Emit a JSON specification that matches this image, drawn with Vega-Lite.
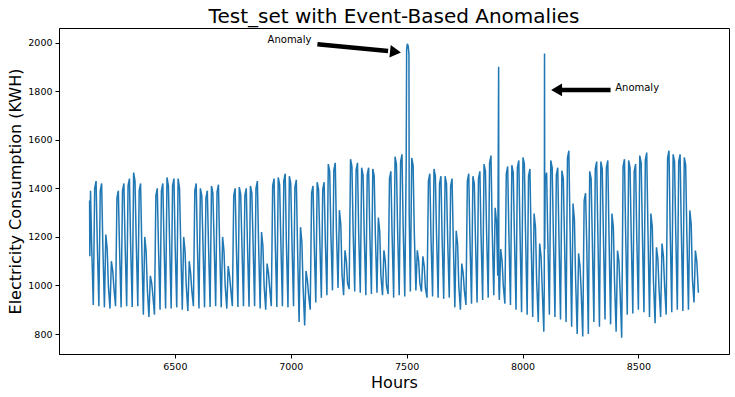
{
"$schema":"https://vega.github.io/schema/vega-lite/v6.json",
"width":670,"height":326,
"autosize":{"type":"none"},
"padding":{"left":59,"top":28,"right":6,"bottom":43},
"background":"white",
"config":{"font":"DejaVu Sans","view":{"stroke":"black","strokeWidth":1},
"axis":{"domainColor":"black","tickColor":"black","labelColor":"black","titleColor":"black","grid":false,"labelFont":"DejaVu Sans","titleFont":"DejaVu Sans","titleFontWeight":"normal","labelFontSize":9.5,"titleFontSize":16,"tickSize":4,"labelPadding":3}},
"title":{"text":"Test_set with Event-Based Anomalies","fontSize":20,"fontWeight":"normal","font":"DejaVu Sans","color":"black","offset":1},
"layer":[
{"data":{"values":[
{"h":6132,"v":1350},{"h":6133,"v":1120},{"h":6136,"v":1390},{"h":6141,"v":1160},
{"h":6148,"v":920},{"h":6154,"v":1400},{"h":6160,"v":1430},{"h":6165,"v":1180},
{"h":6172,"v":915},{"h":6178,"v":1390},{"h":6184,"v":1420},{"h":6189,"v":1170},
{"h":6196,"v":910},{"h":6202,"v":1210},{"h":6208,"v":1150},{"h":6213,"v":1000},
{"h":6220,"v":905},{"h":6226,"v":1100},{"h":6232,"v":1060},{"h":6237,"v":990},
{"h":6244,"v":915},{"h":6250,"v":1360},{"h":6256,"v":1390},{"h":6261,"v":1160},
{"h":6268,"v":910},{"h":6274,"v":1390},{"h":6280,"v":1420},{"h":6285,"v":1180},
{"h":6292,"v":915},{"h":6298,"v":1410},{"h":6304,"v":1440},{"h":6309,"v":1170},
{"h":6316,"v":912},{"h":6322,"v":1465},{"h":6328,"v":1430},{"h":6333,"v":1190},
{"h":6340,"v":915},{"h":6346,"v":1390},{"h":6352,"v":1420},{"h":6357,"v":1170},
{"h":6364,"v":880},{"h":6370,"v":1200},{"h":6376,"v":1140},{"h":6381,"v":990},
{"h":6388,"v":870},{"h":6394,"v":1040},{"h":6400,"v":1010},{"h":6405,"v":960},
{"h":6412,"v":880},{"h":6418,"v":1370},{"h":6424,"v":1400},{"h":6429,"v":1170},
{"h":6436,"v":900},{"h":6442,"v":1390},{"h":6448,"v":1420},{"h":6453,"v":1180},
{"h":6460,"v":905},{"h":6466,"v":1445},{"h":6472,"v":1410},{"h":6477,"v":1190},
{"h":6484,"v":905},{"h":6490,"v":1410},{"h":6496,"v":1440},{"h":6501,"v":1170},
{"h":6508,"v":910},{"h":6514,"v":1440},{"h":6520,"v":1400},{"h":6525,"v":1180},
{"h":6532,"v":900},{"h":6538,"v":1200},{"h":6544,"v":1140},{"h":6549,"v":1000},
{"h":6556,"v":895},{"h":6562,"v":1100},{"h":6568,"v":1050},{"h":6573,"v":980},
{"h":6580,"v":915},{"h":6586,"v":1390},{"h":6592,"v":1420},{"h":6597,"v":1170},
{"h":6604,"v":905},{"h":6610,"v":1400},{"h":6616,"v":1370},{"h":6621,"v":1180},
{"h":6628,"v":910},{"h":6634,"v":1360},{"h":6640,"v":1390},{"h":6645,"v":1170},
{"h":6652,"v":912},{"h":6658,"v":1410},{"h":6664,"v":1380},{"h":6669,"v":1190},
{"h":6676,"v":915},{"h":6682,"v":1385},{"h":6688,"v":1415},{"h":6693,"v":1170},
{"h":6700,"v":910},{"h":6706,"v":1200},{"h":6712,"v":1140},{"h":6717,"v":1000},
{"h":6724,"v":905},{"h":6730,"v":1080},{"h":6736,"v":1040},{"h":6741,"v":985},
{"h":6748,"v":915},{"h":6754,"v":1370},{"h":6760,"v":1400},{"h":6765,"v":1170},
{"h":6772,"v":912},{"h":6778,"v":1405},{"h":6784,"v":1375},{"h":6789,"v":1180},
{"h":6796,"v":915},{"h":6802,"v":1370},{"h":6808,"v":1400},{"h":6813,"v":1175},
{"h":6820,"v":913},{"h":6826,"v":1410},{"h":6832,"v":1380},{"h":6837,"v":1190},
{"h":6844,"v":915},{"h":6850,"v":1400},{"h":6856,"v":1430},{"h":6861,"v":1180},
{"h":6868,"v":905},{"h":6874,"v":1220},{"h":6880,"v":1160},{"h":6885,"v":1000},
{"h":6892,"v":900},{"h":6898,"v":1090},{"h":6904,"v":1050},{"h":6909,"v":990},
{"h":6916,"v":915},{"h":6922,"v":1410},{"h":6928,"v":1440},{"h":6933,"v":1180},
{"h":6940,"v":912},{"h":6946,"v":1445},{"h":6952,"v":1415},{"h":6957,"v":1190},
{"h":6964,"v":915},{"h":6970,"v":1430},{"h":6976,"v":1460},{"h":6981,"v":1180},
{"h":6988,"v":910},{"h":6994,"v":1450},{"h":7000,"v":1420},{"h":7005,"v":1190},
{"h":7012,"v":915},{"h":7018,"v":1405},{"h":7024,"v":1435},{"h":7029,"v":1170},
{"h":7036,"v":850},{"h":7042,"v":1240},{"h":7048,"v":1180},{"h":7053,"v":1000},
{"h":7060,"v":835},{"h":7066,"v":1060},{"h":7072,"v":1020},{"h":7077,"v":960},
{"h":7084,"v":900},{"h":7090,"v":1380},{"h":7096,"v":1410},{"h":7101,"v":1180},
{"h":7108,"v":930},{"h":7114,"v":1425},{"h":7120,"v":1395},{"h":7125,"v":1200},
{"h":7132,"v":950},{"h":7138,"v":1395},{"h":7144,"v":1425},{"h":7149,"v":1190},
{"h":7156,"v":960},{"h":7162,"v":1500},{"h":7168,"v":1470},{"h":7173,"v":1220},
{"h":7180,"v":980},{"h":7186,"v":1475},{"h":7192,"v":1505},{"h":7197,"v":1230},
{"h":7204,"v":990},{"h":7210,"v":1310},{"h":7216,"v":1250},{"h":7221,"v":1050},
{"h":7228,"v":960},{"h":7234,"v":1145},{"h":7240,"v":1100},{"h":7245,"v":1010},
{"h":7252,"v":985},{"h":7258,"v":1520},{"h":7264,"v":1490},{"h":7269,"v":1230},
{"h":7276,"v":975},{"h":7282,"v":1475},{"h":7288,"v":1505},{"h":7293,"v":1220},
{"h":7300,"v":970},{"h":7306,"v":1485},{"h":7312,"v":1455},{"h":7317,"v":1210},
{"h":7324,"v":960},{"h":7330,"v":1455},{"h":7336,"v":1485},{"h":7341,"v":1220},
{"h":7348,"v":965},{"h":7354,"v":1480},{"h":7360,"v":1450},{"h":7365,"v":1210},
{"h":7372,"v":970},{"h":7378,"v":1280},{"h":7384,"v":1220},{"h":7389,"v":1040},
{"h":7396,"v":960},{"h":7402,"v":1145},{"h":7408,"v":1100},{"h":7413,"v":1000},
{"h":7420,"v":965},{"h":7426,"v":1440},{"h":7432,"v":1470},{"h":7437,"v":1220},
{"h":7444,"v":950},{"h":7450,"v":1530},{"h":7456,"v":1500},{"h":7461,"v":1230},
{"h":7468,"v":960},{"h":7474,"v":1510},{"h":7480,"v":1540},{"h":7485,"v":1240},
{"h":7492,"v":955},{"h":7498,"v":1490},{"h":7500,"v":1970},{"h":7503,"v":1995},{"h":7507,"v":1985},{"h":7510,"v":1950},{"h":7511,"v":1300},
{"h":7516,"v":975},{"h":7522,"v":1525},{"h":7528,"v":1495},{"h":7533,"v":1220},
{"h":7540,"v":980},{"h":7546,"v":1145},{"h":7552,"v":1100},{"h":7557,"v":1010},
{"h":7564,"v":975},{"h":7570,"v":1120},{"h":7576,"v":1080},{"h":7581,"v":990},
{"h":7588,"v":950},{"h":7594,"v":1430},{"h":7600,"v":1460},{"h":7605,"v":1200},
{"h":7612,"v":955},{"h":7618,"v":1480},{"h":7624,"v":1450},{"h":7629,"v":1210},
{"h":7636,"v":950},{"h":7642,"v":1420},{"h":7648,"v":1450},{"h":7653,"v":1200},
{"h":7660,"v":945},{"h":7666,"v":1450},{"h":7672,"v":1420},{"h":7677,"v":1190},
{"h":7684,"v":950},{"h":7690,"v":1410},{"h":7696,"v":1440},{"h":7701,"v":1200},
{"h":7708,"v":910},{"h":7714,"v":1225},{"h":7720,"v":1170},{"h":7725,"v":1000},
{"h":7732,"v":900},{"h":7738,"v":1090},{"h":7744,"v":1050},{"h":7749,"v":980},
{"h":7756,"v":920},{"h":7762,"v":1430},{"h":7768,"v":1460},{"h":7773,"v":1200},
{"h":7780,"v":925},{"h":7786,"v":1450},{"h":7792,"v":1420},{"h":7797,"v":1190},
{"h":7804,"v":930},{"h":7810,"v":1440},{"h":7816,"v":1470},{"h":7821,"v":1210},
{"h":7828,"v":940},{"h":7834,"v":1500},{"h":7840,"v":1470},{"h":7845,"v":1220},
{"h":7852,"v":950},{"h":7858,"v":1505},{"h":7864,"v":1535},{"h":7869,"v":1240},
{"h":7876,"v":960},{"h":7882,"v":1320},{"h":7888,"v":1260},{"h":7893,"v":1040},
{"h":7897,"v":1900},{"h":7898,"v":990},{"h":7900,"v":940},{"h":7906,"v":1150},{"h":7912,"v":1100},{"h":7917,"v":1000},
{"h":7924,"v":925},{"h":7930,"v":1460},{"h":7936,"v":1490},{"h":7941,"v":1220},
{"h":7948,"v":920},{"h":7954,"v":1495},{"h":7960,"v":1465},{"h":7965,"v":1210},
{"h":7972,"v":900},{"h":7978,"v":1485},{"h":7984,"v":1515},{"h":7989,"v":1230},
{"h":7996,"v":890},{"h":8002,"v":1527},{"h":8008,"v":1500},{"h":8013,"v":1220},
{"h":8020,"v":880},{"h":8026,"v":1450},{"h":8032,"v":1480},{"h":8037,"v":1200},
{"h":8044,"v":870},{"h":8050,"v":1296},{"h":8056,"v":1240},{"h":8061,"v":1020},
{"h":8068,"v":850},{"h":8074,"v":1173},{"h":8080,"v":1120},{"h":8085,"v":990},
{"h":8092,"v":810},{"h":8094,"v":1000},{"h":8095,"v":1955},{"h":8096,"v":1150},{"h":8098,"v":1435},{"h":8104,"v":1465},{"h":8109,"v":1200},
{"h":8116,"v":880},{"h":8122,"v":1515},{"h":8128,"v":1485},{"h":8133,"v":1220},
{"h":8140,"v":870},{"h":8146,"v":1455},{"h":8152,"v":1485},{"h":8157,"v":1210},
{"h":8164,"v":860},{"h":8170,"v":1473},{"h":8176,"v":1440},{"h":8181,"v":1200},
{"h":8188,"v":850},{"h":8194,"v":1525},{"h":8200,"v":1555},{"h":8205,"v":1240},
{"h":8212,"v":830},{"h":8218,"v":1337},{"h":8224,"v":1270},{"h":8229,"v":1030},
{"h":8236,"v":800},{"h":8242,"v":1132},{"h":8248,"v":1080},{"h":8253,"v":980},
{"h":8260,"v":790},{"h":8266,"v":1350},{"h":8272,"v":1380},{"h":8277,"v":1180},
{"h":8284,"v":800},{"h":8290,"v":1470},{"h":8296,"v":1440},{"h":8301,"v":1200},
{"h":8308,"v":850},{"h":8314,"v":1480},{"h":8320,"v":1510},{"h":8325,"v":1220},
{"h":8332,"v":830},{"h":8338,"v":1510},{"h":8344,"v":1480},{"h":8349,"v":1210},
{"h":8356,"v":860},{"h":8362,"v":1485},{"h":8368,"v":1515},{"h":8373,"v":1220},
{"h":8380,"v":840},{"h":8386,"v":1296},{"h":8392,"v":1240},{"h":8397,"v":1020},
{"h":8404,"v":810},{"h":8410,"v":1144},{"h":8416,"v":1100},{"h":8421,"v":980},
{"h":8428,"v":785},{"h":8434,"v":1490},{"h":8440,"v":1520},{"h":8445,"v":1220},
{"h":8452,"v":880},{"h":8458,"v":1515},{"h":8464,"v":1485},{"h":8469,"v":1210},
{"h":8476,"v":885},{"h":8482,"v":1470},{"h":8488,"v":1500},{"h":8493,"v":1200},
{"h":8500,"v":900},{"h":8506,"v":1535},{"h":8512,"v":1505},{"h":8517,"v":1230},
{"h":8524,"v":890},{"h":8530,"v":1517},{"h":8536,"v":1547},{"h":8541,"v":1240},
{"h":8548,"v":870},{"h":8554,"v":1296},{"h":8560,"v":1240},{"h":8565,"v":1020},
{"h":8572,"v":845},{"h":8578,"v":1157},{"h":8584,"v":1110},{"h":8589,"v":990},
{"h":8596,"v":870},{"h":8602,"v":1173},{"h":8608,"v":1120},{"h":8613,"v":1000},
{"h":8620,"v":880},{"h":8626,"v":1525},{"h":8632,"v":1555},{"h":8637,"v":1240},
{"h":8644,"v":890},{"h":8650,"v":1540},{"h":8656,"v":1510},{"h":8661,"v":1230},
{"h":8668,"v":900},{"h":8674,"v":1510},{"h":8680,"v":1540},{"h":8685,"v":1240},
{"h":8692,"v":895},{"h":8698,"v":1527},{"h":8704,"v":1497},{"h":8709,"v":1220},
{"h":8716,"v":900},{"h":8722,"v":1309},{"h":8728,"v":1250},{"h":8733,"v":1030},
{"h":8740,"v":930},{"h":8746,"v":1144},{"h":8752,"v":1100},{"h":8759,"v":970}
]},
"mark":{"type":"line","color":"#1f77b4","strokeWidth":1.5},
"encoding":{
"x":{"field":"h","type":"quantitative","scale":{"domain":[6000,8891],"nice":false,"zero":false},"axis":{"values":[6500,7000,7500,8000,8500],"format":"d","title":"Hours"}},
"y":{"field":"v","type":"quantitative","scale":{"domain":[718,2060],"nice":false,"zero":false},"axis":{"values":[800,1000,1200,1400,1600,1800,2000],"format":"d","title":"Electricity Consumption (KWH)"}}}},
{"data":{"values":[{"h":7115,"v":1993,"h2":7420,"v2":1965},{"h":8380,"v":1805,"h2":8170,"v2":1805}]},
"mark":{"type":"rule","color":"black","strokeWidth":4.5},
"encoding":{"x":{"field":"h","type":"quantitative","scale":{"domain":[6000,8891],"nice":false,"zero":false},"axis":{"values":[6500,7000,7500,8000,8500],"format":"d","title":"Hours"}},"y":{"field":"v","type":"quantitative","scale":{"domain":[718,2060],"nice":false,"zero":false},"axis":{"values":[800,1000,1200,1400,1600,1800,2000],"format":"d","title":"Electricity Consumption (KWH)"}},"x2":{"field":"h2"},"y2":{"field":"v2"}}},
{"data":{"values":[{"h":7452,"v":1962}]},
"mark":{"type":"point","shape":"triangle-right","filled":true,"color":"black","opacity":1,"size":160,"angle":6},
"encoding":{"x":{"field":"h","type":"quantitative","scale":{"domain":[6000,8891],"nice":false,"zero":false},"axis":{"values":[6500,7000,7500,8000,8500],"format":"d","title":"Hours"}},"y":{"field":"v","type":"quantitative","scale":{"domain":[718,2060],"nice":false,"zero":false},"axis":{"values":[800,1000,1200,1400,1600,1800,2000],"format":"d","title":"Electricity Consumption (KWH)"}}}},
{"data":{"values":[{"h":8147,"v":1805}]},
"mark":{"type":"point","shape":"triangle-left","filled":true,"color":"black","opacity":1,"size":160},
"encoding":{"x":{"field":"h","type":"quantitative","scale":{"domain":[6000,8891],"nice":false,"zero":false},"axis":{"values":[6500,7000,7500,8000,8500],"format":"d","title":"Hours"}},"y":{"field":"v","type":"quantitative","scale":{"domain":[718,2060],"nice":false,"zero":false},"axis":{"values":[800,1000,1200,1400,1600,1800,2000],"format":"d","title":"Electricity Consumption (KWH)"}}}},
{"data":{"values":[{"h":6900,"v":2000,"t":"Anomaly"},{"h":8400,"v":1800,"t":"Anomaly"}]},
"mark":{"type":"text","align":"left","baseline":"alphabetic","fontSize":10,"font":"DejaVu Sans","color":"black"},
"encoding":{"x":{"field":"h","type":"quantitative","scale":{"domain":[6000,8891],"nice":false,"zero":false},"axis":{"values":[6500,7000,7500,8000,8500],"format":"d","title":"Hours"}},"y":{"field":"v","type":"quantitative","scale":{"domain":[718,2060],"nice":false,"zero":false},"axis":{"values":[800,1000,1200,1400,1600,1800,2000],"format":"d","title":"Electricity Consumption (KWH)"}},"text":{"field":"t"}}}
]
}
